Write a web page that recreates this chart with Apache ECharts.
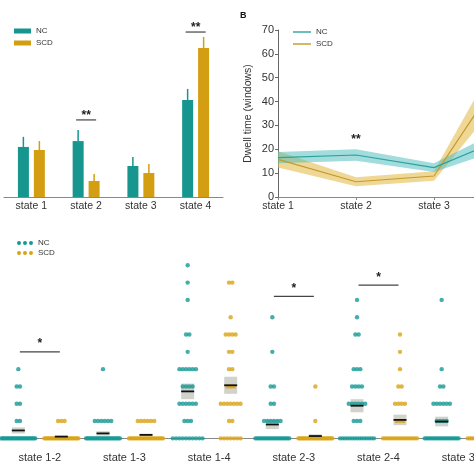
<!DOCTYPE html>
<html><head><meta charset="utf-8">
<script src="https://cdn.jsdelivr.net/npm/echarts@6/dist/echarts.min.js"></script>
<style>html,body{margin:0;padding:0;background:#fff}#c{width:474px;height:474px}</style>
</head><body><div id="c"></div>
<script>
// ---------- DATA ----------
const statesA = ['state 1','state 2','state 3','state 4'];
const ncOcc     = [0.213, 0.238, 0.132, 0.413];
const ncOccErr  = [0.043, 0.047, 0.038, 0.047];
const scdOcc    = [0.200, 0.068, 0.102, 0.634];
const scdOccErr = [0.038, 0.030, 0.038, 0.047];
const sigA = [[1, 0.328, '**'], [3, 0.702, '**']];

const statesB = ['state 1','state 2','state 3','state 4'];
const ncDwell     = [16.5, 17.6, 12.3, 26];
const ncDwellErr  = [2.4, 2.4, 1.8, 4.5];
const scdDwell    = [15.8, 6.4, 8.8, 58];
const scdDwellErr = [3.4, 1.9, 2.0, 11];
const sigB = [[1, 24, '**']];
const yTicksB = [0, 70, 10];

const pairs = ['state 1-2','state 1-3','state 1-4','state 2-3','state 2-4','state 3-4'];
// number of subjects at each transition count 0..10
const ncCounts = [
  [28,2,2,2,1,0,0,0,0,0,0],
  [28,6,0,0,1,0,0,0,0,0,0],
  [10,3,6,4,6,1,2,0,1,1,1],
  [23,6,2,2,0,1,0,1,0,0,0],
  [15,3,6,4,3,0,2,1,1,0,0],
  [21,4,6,2,1,0,0,0,1,0,0]
];
const scdCounts = [
  [27,3,0,0,0,0,0,0,0,0,0],
  [24,6,0,0,0,0,0,0,0,0,0],
  [7,2,7,3,2,2,4,1,0,2,0],
  [28,1,0,1,0,0,0,0,0,0,0],
  [18,3,4,2,1,1,1,0,0,0,0],
  [18,4,3,2,2,1,0,0,0,0,0]
];
const sigC = [[0, 5.0, '*'], [3, 8.2, '*'], [4, 8.85, '*']];

// ---------- STYLE ----------
const C_NC = '#16968f', C_SCD = '#d49e12';
const C_NC_DOT = '#169a95', C_SCD_DOT = '#d9a416';
const FONT = 'Liberation Sans, Arial, sans-serif';
const txt = '#333';
const gridC = {left: -2.5, top: 248, width: 508, height: 199, outerBoundsMode: 'none', containLabel: false};
const pxU = 6 / gridC.width;          // value-axis units per pixel in panel C
const sideOff = 21.5 * pxU;

// ---------- BUILD ----------
const dotsNC = [], dotsSCD = [], statsC = [];
function swarm(counts, g, side, out) {
  let n = 0, s1 = 0, s2 = 0;
  counts.forEach((cnt, v) => {
    if (!cnt) return;
    const sp = cnt > 1 ? Math.min(3.3, 34 / (cnt - 1)) : 0;
    for (let i = 0; i < cnt; i++) {
      out.push([g + side * sideOff + (i - (cnt - 1) / 2) * sp * pxU, v]);
    }
    n += cnt; s1 += cnt * v; s2 += cnt * v * v;
  });
  const m = s1 / n;
  const sd = Math.sqrt((s2 - n * m * m) / (n - 1));
  statsC.push([g + side * sideOff, m, sd / Math.sqrt(n)]);
}
ncCounts.forEach((c, g) => swarm(c, g, -1, dotsNC));
scdCounts.forEach((c, g) => swarm(c, g, 1, dotsSCD));

function errSeries(vals, errs, offPx, color) {
  return {
    type: 'custom', xAxisIndex: 0, yAxisIndex: 0, z: 3, silent: true,
    data: vals.map((v, i) => [i, v, v + errs[i]]),
    renderItem(p, api) {
      const a = api.coord([api.value(0), api.value(1)]);
      const b = api.coord([api.value(0), api.value(2)]);
      return {type: 'line', shape: {x1: a[0] + offPx, y1: a[1], x2: a[0] + offPx, y2: b[1]},
              style: {stroke: color, lineWidth: 1.5}};
    }
  };
}
function sigSeries(arr, xi, yi, half, dy, fs) {
  return {
    type: 'custom', xAxisIndex: xi, yAxisIndex: yi, z: 5, silent: true,
    data: arr.map(d => [d[0], d[1]]),
    renderItem(p, api) {
      const c = api.coord([api.value(0), api.value(1)]);
      const ch = [];
      if (half > 0) ch.push({type: 'line', shape: {x1: c[0] - half, y1: c[1], x2: c[0] + half, y2: c[1]},
                            style: {stroke: '#444', lineWidth: 1.2}});
      ch.push({type: 'text', style: {text: arr[p.dataIndex][2], x: c[0], y: c[1] + dy,
               textAlign: 'center', textVerticalAlign: 'middle', fontSize: fs, fontWeight: 'bold',
               fill: '#222', fontFamily: FONT}});
      return {type: 'group', children: ch};
    }
  };
}

const catAxis = (gi, data, extra) => Object.assign({
  gridIndex: gi, type: 'category', data,
  axisLine: {lineStyle: {color: '#888', width: 1}},
  axisTick: {alignWithLabel: true, length: 3, lineStyle: {color: '#888'}},
  axisLabel: {fontSize: 10.5, color: txt, margin: 4, fontFamily: FONT}
}, extra || {});

const legendText = {fontSize: 8, color: txt, fontFamily: FONT};
const dotsIcon = 'path://M2,0A2,2 0 1 1 2,4A2,2 0 1 1 2,0ZM8,0A2,2 0 1 1 8,4A2,2 0 1 1 8,0ZM14,0A2,2 0 1 1 14,4A2,2 0 1 1 14,0Z';

const option = {
  animation: false,
  textStyle: {fontFamily: FONT},
  grid: [
    {left: 4, top: 9, width: 219, height: 188, outerBoundsMode: 'none', containLabel: false},
    {left: 278, top: 30, width: 234, height: 167, outerBoundsMode: 'none', containLabel: false},
    gridC
  ],
  xAxis: [
    catAxis(0, statesA),
    catAxis(1, statesB, {boundaryGap: false}),
    catAxis(2, pairs, {axisLabel: {fontSize: 11, color: txt, margin: 5, fontFamily: FONT}}),
    {gridIndex: 2, type: 'value', min: -0.5, max: 5.5, show: false}
  ],
  yAxis: [
    {gridIndex: 0, type: 'value', min: 0, max: 0.8, show: false},
    {gridIndex: 1, type: 'value', min: yTicksB[0], max: yTicksB[1], interval: yTicksB[2],
     name: 'Dwell time (windows)', nameLocation: 'middle', nameGap: 24,
     nameTextStyle: {fontSize: 10.5, color: txt, fontFamily: FONT},
     axisLine: {show: true, lineStyle: {color: '#666'}},
     axisTick: {show: true, length: 3, lineStyle: {color: '#666'}},
     splitLine: {show: false},
     axisLabel: {fontSize: 11, color: txt, margin: 4, fontFamily: FONT}},
    {gridIndex: 2, type: 'value', min: -0.5, max: 11, show: false}
  ],
  legend: [
    {left: 9, top: 22, orient: 'vertical', itemGap: 4, itemWidth: 17, itemHeight: 5, textStyle: legendText,
     data: [{name: 'NC', icon: 'rect', itemStyle: {color: C_NC}}, {name: 'SCD', icon: 'rect', itemStyle: {color: C_SCD}}]},
    {left: 288, top: 23, orient: 'vertical', itemGap: 4, itemWidth: 18, itemHeight: 1.5, textStyle: legendText,
     data: [{name: 'NC', icon: 'rect', itemStyle: {color: '#3aa9a6'}}, {name: 'SCD', icon: 'rect', itemStyle: {color: '#c9a030'}}]},
    {left: 12, top: 234, orient: 'vertical', itemGap: 2, itemWidth: 16, itemHeight: 4.3, textStyle: legendText,
     data: [{name: 'NC', icon: dotsIcon, itemStyle: {color: C_NC_DOT}}, {name: 'SCD', icon: dotsIcon, itemStyle: {color: C_SCD_DOT}}]}
  ],
  graphic: [{type: 'text', left: 240, top: 11, style: {text: 'B', fontSize: 9, fontWeight: 'bold', fill: '#111', fontFamily: FONT}}],
  series: [
    // Panel A
    {type: 'bar', name: 'NC', xAxisIndex: 0, yAxisIndex: 0, data: ncOcc, barWidth: 11, barGap: '45%', itemStyle: {color: C_NC}},
    {type: 'bar', name: 'SCD', xAxisIndex: 0, yAxisIndex: 0, data: scdOcc, barWidth: 11, barGap: '45%', itemStyle: {color: C_SCD}},
    errSeries(ncOcc, ncOccErr, -8, C_NC),
    errSeries(scdOcc, scdOccErr, 8, C_SCD),
    sigSeries(sigA, 0, 0, 10, -4, 12),
    // Panel B bands
    {type: 'line', name: 'scdLow', xAxisIndex: 1, yAxisIndex: 1, stack: 'scd', symbol: 'none', silent: true,
     data: scdDwell.map((v, i) => v - scdDwellErr[i]), lineStyle: {opacity: 0}},
    {type: 'line', name: 'scdBand', xAxisIndex: 1, yAxisIndex: 1, stack: 'scd', symbol: 'none', silent: true,
     data: scdDwellErr.map(e => 2 * e), lineStyle: {opacity: 0}, areaStyle: {color: 'rgba(228,188,80,0.6)', opacity: 1}},
    {type: 'line', name: 'ncLow', xAxisIndex: 1, yAxisIndex: 1, stack: 'nc', symbol: 'none', silent: true,
     data: ncDwell.map((v, i) => v - ncDwellErr[i]), lineStyle: {opacity: 0}},
    {type: 'line', name: 'ncBand', xAxisIndex: 1, yAxisIndex: 1, stack: 'nc', symbol: 'none', silent: true,
     data: ncDwellErr.map(e => 2 * e), lineStyle: {opacity: 0}, areaStyle: {color: 'rgba(70,185,185,0.5)', opacity: 1}},
    {type: 'line', name: 'SCD', xAxisIndex: 1, yAxisIndex: 1, symbol: 'none', data: scdDwell,
     lineStyle: {color: '#c39a2c', width: 1.2}, itemStyle: {color: '#c39a2c'}},
    {type: 'line', name: 'NC', xAxisIndex: 1, yAxisIndex: 1, symbol: 'none', data: ncDwell,
     lineStyle: {color: '#2aa29e', width: 1.2}, itemStyle: {color: '#2aa29e'}},
    sigSeries(sigB, 1, 1, 0, 0, 12),
    // Panel C
    {type: 'custom', name: 'sem', xAxisIndex: 3, yAxisIndex: 2, z: 1, silent: true, data: statsC,
     renderItem(p, api) {
       const t = api.coord([api.value(0), api.value(1) + api.value(2)]);
       const b = api.coord([api.value(0), api.value(1) - api.value(2)]);
       return {type: 'rect', shape: {x: t[0] - 6.5, y: t[1], width: 13, height: b[1] - t[1]},
               style: {fill: 'rgba(195,195,188,0.75)'}};
     }},
    {type: 'scatter', name: 'NC', xAxisIndex: 3, yAxisIndex: 2, z: 2, data: dotsNC, symbolSize: 4.4,
     itemStyle: {color: C_NC_DOT}},
    {type: 'scatter', name: 'SCD', xAxisIndex: 3, yAxisIndex: 2, z: 2, data: dotsSCD, symbolSize: 4.4,
     itemStyle: {color: C_SCD_DOT}},
    {type: 'custom', name: 'mean', xAxisIndex: 3, yAxisIndex: 2, z: 4, silent: true, data: statsC,
     renderItem(p, api) {
       const c = api.coord([api.value(0), api.value(1)]);
       return {type: 'line', shape: {x1: c[0] - 6.5, y1: c[1], x2: c[0] + 6.5, y2: c[1]},
               style: {stroke: '#111', lineWidth: 1.8}};
     }},
    sigSeries(sigC, 3, 2, 20, -8, 12)
  ]
};
echarts.init(document.getElementById('c')).setOption(option);
</script></body></html>
